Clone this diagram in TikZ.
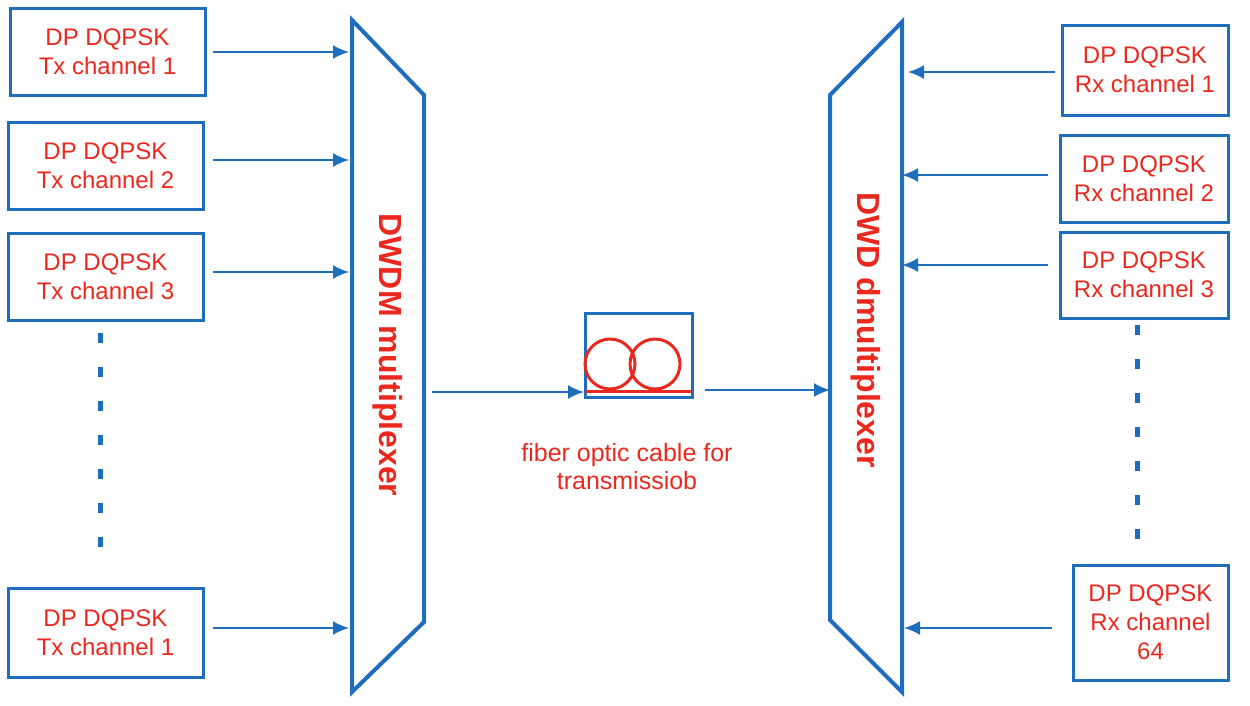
\documentclass[tikz,border=0pt]{standalone}
\usepackage{fontspec}
\setmainfont{Liberation Sans}
\usetikzlibrary{arrows.meta,calc}
\definecolor{bl}{RGB}{31,110,190}
\definecolor{rd}{RGB}{235,40,30}
\begin{document}
\begin{tikzpicture}[x=1pt,y=-1pt,
  chbox/.style={draw=bl,line width=3pt,text=rd,font=\fontsize{24}{29}\selectfont,align=center,inner sep=0pt},
  arr/.style={draw=bl,line width=2pt,-{Latex[length=16pt,width=14pt]}},
  dots/.style={draw=bl,line width=5pt,dash pattern=on 10pt off 24pt},
  mux/.style={draw=bl,line width=4pt,line join=miter}]
\useasboundingbox (0,0) rectangle (1250,705);
\node[chbox,minimum width=195,minimum height=87] (t1) at (107.5,51.5) {DP DQPSK\\Tx channel 1};
\node[chbox,minimum width=195,minimum height=87] (t2) at (105.5,165.5) {DP DQPSK\\Tx channel 2};
\node[chbox,minimum width=195,minimum height=87] (t3) at (105.5,276.5) {DP DQPSK\\Tx channel 3};
\node[chbox,minimum width=195,minimum height=89] (t4) at (105.5,632.5) {DP DQPSK\\Tx channel 1};
\node[chbox,minimum width=166,minimum height=90] (r1) at (1145,70) {DP DQPSK\\Rx channel 1};
\node[chbox,minimum width=168,minimum height=87] (r2) at (1144,178.5) {DP DQPSK\\Rx channel 2};
\node[chbox,minimum width=168,minimum height=86] (r3) at (1144,275) {DP DQPSK\\Rx channel 3};
\node[chbox,minimum width=155,minimum height=115] (r4) at (1150.5,622.5) {DP DQPSK\\Rx channel\\64};
\draw[dots] (100,333) -- (100,550);
\draw[dots] (1137,325) -- (1137,550);
\draw[mux] (352,20) -- (424,95) -- (424,622) -- (352,692) -- cycle;
\draw[mux] (902,22) -- (830,95) -- (830,620) -- (902,692) -- cycle;
\node[rotate=-90,text=rd,font=\bfseries\fontsize{32}{38}\selectfont] (mt) at (388,355) {DWDM multiplexer};
\node[rotate=-90,text=rd,font=\bfseries\fontsize{32}{38}\selectfont] (dt) at (866,330) {DWD dmultiplexer};
% fiber
\node[draw=bl,line width=3pt,minimum width=107,minimum height=84,inner sep=0pt] (fb) at (638.5,355) {};
\draw[rd,line width=3pt] (610,364) circle (25) (655,364) circle (25);
\draw[rd,line width=3pt] (586,391) -- (691,391);
\node[text=rd,font=\fontsize{25}{28}\selectfont,align=center] (cap) at (627,467) {fiber optic cable for\\transmissiob};
% arrows
\coordinate (a1) at (213,52); \coordinate (b1) at (349,52);
\coordinate (a2) at (213,160); \coordinate (b2) at (349,160);
\coordinate (a3) at (213,272); \coordinate (b3) at (349,272);
\coordinate (a4) at (213,628); \coordinate (b4) at (349,628);
\draw[arr] (a1) -- (b1); \draw[arr] (a2) -- (b2);
\draw[arr] (a3) -- (b3); \draw[arr] (a4) -- (b4);
\coordinate (m1) at (432,392); \coordinate (m2) at (584,392);
\draw[arr] (m1) -- (m2);
\coordinate (m3) at (705,390); \coordinate (m4) at (830,390);
\draw[arr] (m3) -- (m4);
\coordinate (c1) at (1055,72); \coordinate (d1) at (908,72);
\coordinate (c2) at (1048,175); \coordinate (d2) at (902,175);
\coordinate (c3) at (1048,265); \coordinate (d3) at (902,265);
\coordinate (c4) at (1052,628); \coordinate (d4) at (904,628);
\draw[arr] (c1) -- (d1); \draw[arr] (c2) -- (d2);
\draw[arr] (c3) -- (d3); \draw[arr] (c4) -- (d4);
\end{tikzpicture}
\end{document}
